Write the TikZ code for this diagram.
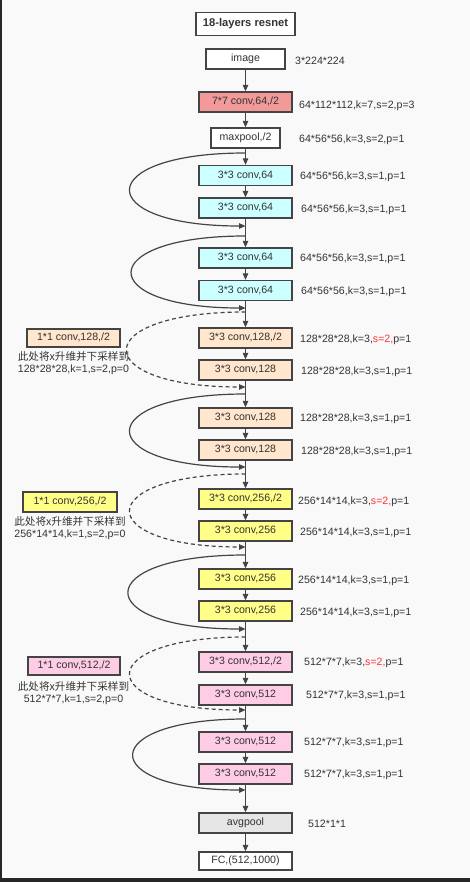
\documentclass[tikz,border=0pt]{standalone}
\usepackage{fontspec}
\setmainfont{Liberation Sans}
\newfontfamily\cjk{Noto Sans CJK SC}
\usetikzlibrary{arrows.meta}
\definecolor{edge}{HTML}{444444}
\definecolor{txt}{HTML}{333333}
\definecolor{bgc}{HTML}{F9F9F9}
\definecolor{redc}{HTML}{F29A9A}
\definecolor{cyanc}{HTML}{CCFFFF}
\definecolor{peachc}{HTML}{FFE6CC}
\definecolor{yelc}{HTML}{FFFF88}
\definecolor{pinkc}{HTML}{FFCCE6}
\definecolor{grayc}{HTML}{E6E6E6}
\definecolor{hot}{HTML}{FF3333}

\begin{document}
\begin{tikzpicture}[x=1pt,y=-1pt,font=\fontsize{10.6}{12}\selectfont,text=txt,
    layer/.style={draw=edge,line width=1.3pt,minimum width=93pt,minimum height=20pt,inner sep=0pt,text height=7.6pt,text depth=2.2pt},
    info/.style={anchor=west,inner sep=0pt},
    arr/.style={draw=edge,line width=1.1pt,-{Triangle[length=6.5pt,width=5.5pt]}},
    skip/.style={arr,line width=1.2pt,out=180,in=180,looseness=5.4},
    dskip/.style={skip,dash pattern=on 4pt off 3pt}]
  \fill[bgc] (0,0) rectangle (470,882);
  \useasboundingbox (0,0) rectangle (470,882);
  \fill[black!85] (0,0) rectangle (1.5,882);
  \fill[black!85] (0,878) rectangle (470,882);

  % title and stem
  \node[draw=edge,line width=1.8pt,fill=white,minimum width=99pt,minimum height=23pt,inner sep=0pt,font=\bfseries\fontsize{11.2}{13}\selectfont] (title) at (245.5,24) {18-layers resnet};
  \node[layer,fill=white,minimum width=79pt] (img) at (245.5,59) {image};
  \node[info] at (295,61) {3*224*224};
  \node[layer,fill=redc] (c1) at (245.5,102) {7*7 conv,64,/2};
  \node[info] at (299,106) {64*112*112,k=7,s=2,p=3};
  \node[layer,fill=white,minimum width=69pt] (pool) at (245.5,138) {maxpool,/2};
  \node[info] at (299,140) {64*56*56,k=3,s=2,p=1};

  % stage 1
  \node[layer,fill=cyanc] (s1a) at (245.5,175.5) {3*3 conv,64};
  \node[info] at (300,177) {64*56*56,k=3,s=1,p=1};
  \node[layer,fill=cyanc] (s1b) at (245.5,208) {3*3 conv,64};
  \node[info] at (301,210) {64*56*56,k=3,s=1,p=1};
  \node[layer,fill=cyanc] (s1c) at (245.5,258) {3*3 conv,64};
  \node[info] at (300,259) {64*56*56,k=3,s=1,p=1};
  \node[layer,fill=cyanc] (s1d) at (245.5,290.5) {3*3 conv,64};
  \node[info] at (301,292) {64*56*56,k=3,s=1,p=1};

  % stage 2
  \node[layer,fill=peachc] (s2a) at (245.5,338) {3*3 conv,128,/2};
  \node[info] at (300,340) {128*28*28,k=3,\textcolor{hot}{s=2,}p=1};
  \node[layer,fill=peachc] (s2b) at (245.5,370) {3*3 conv,128};
  \node[info] at (301,372) {128*28*28,k=3,s=1,p=1};
  \node[layer,fill=peachc] (s2c) at (245.5,418) {3*3 conv,128};
  \node[info] at (300,419) {128*28*28,k=3,s=1,p=1};
  \node[layer,fill=peachc] (s2d) at (245.5,450) {3*3 conv,128};
  \node[info] at (301,452) {128*28*28,k=3,s=1,p=1};
  \node[layer,fill=peachc,minimum height=18pt] (d2) at (73.5,338) {1*1 conv,128,/2};
  \node[align=center,inner sep=0pt] (d2t) at (73.5,363.5) {{\cjk 此处将x升维并下采样到}\\128*28*28,k=1,s=2,p=0};

  % stage 3
  \node[layer,fill=yelc] (s3a) at (245.5,499) {3*3 conv,256,/2};
  \node[info] at (298,502) {256*14*14,k=3,\textcolor{hot}{s=2,}p=1};
  \node[layer,fill=yelc] (s3b) at (245.5,531) {3*3 conv,256};
  \node[info] at (300,533) {256*14*14,k=3,s=1,p=1};
  \node[layer,fill=yelc] (s3c) at (245.5,579) {3*3 conv,256};
  \node[info] at (298,581) {256*14*14,k=3,s=1,p=1};
  \node[layer,fill=yelc] (s3d) at (245.5,611) {3*3 conv,256};
  \node[info] at (300,613) {256*14*14,k=3,s=1,p=1};
  \node[layer,fill=yelc,minimum width=94pt] (d3) at (70,502) {1*1 conv,256,/2};
  \node[align=center,inner sep=0pt] (d3t) at (70,528) {{\cjk 此处将x升维并下采样到}\\256*14*14,k=1,s=2,p=0};

  % stage 4
  \node[layer,fill=pinkc] (s4a) at (245.5,662) {3*3 conv,512,/2};
  \node[info] at (304,663) {512*7*7,k=3,\textcolor{hot}{s=2,}p=1};
  \node[layer,fill=pinkc] (s4b) at (245.5,695) {3*3 conv,512};
  \node[info] at (306,696) {512*7*7,k=3,s=1,p=1};
  \node[layer,fill=pinkc] (s4c) at (245.5,742) {3*3 conv,512};
  \node[info] at (304,743) {512*7*7,k=3,s=1,p=1};
  \node[layer,fill=pinkc] (s4d) at (245.5,774) {3*3 conv,512};
  \node[info] at (304,775) {512*7*7,k=3,s=1,p=1};
  \node[layer,fill=pinkc,minimum width=92pt,minimum height=18pt] (d4) at (74,666) {1*1 conv,512,/2};
  \node[align=center,inner sep=0pt] (d4t) at (73.5,693) {{\cjk 此处将x升维并下采样到}\\512*7*7,k=1,s=2,p=0};

  % head
  \node[layer,fill=grayc] (avg) at (245.5,823) {avgpool};
  \node[info] at (308,824) {512*1*1};
  \node[layer,fill=white,minimum height=18pt] (fc) at (245.5,861) {FC,(512,1000)};

  % main line
  \draw[arr] (img) -- (c1);
  \draw[arr] (c1) -- (pool);
  \draw[arr] (pool) -- (s1a);
  \draw[arr] (s1a) -- (s1b);
  \draw[arr] (s1b) -- (s1c);
  \draw[arr] (s1c) -- (s1d);
  \draw[arr] (s1d) -- (s2a);
  \draw[arr] (s2a) -- (s2b);
  \draw[arr] (s2b) -- (s2c);
  \draw[arr] (s2c) -- (s2d);
  \draw[arr] (s2d) -- (s3a);
  \draw[arr] (s3a) -- (s3b);
  \draw[arr] (s3b) -- (s3c);
  \draw[arr] (s3c) -- (s3d);
  \draw[arr] (s3d) -- (s4a);
  \draw[arr] (s4a) -- (s4b);
  \draw[arr] (s4b) -- (s4c);
  \draw[arr] (s4c) -- (s4d);
  \draw[arr] (s4d) -- (avg);
  \draw[arr] (avg) -- (fc);

  % shortcuts
  \coordinate (k1s) at (245.5,153);  \coordinate (k1e) at (245.5,226);
  \coordinate (k2s) at (245.5,236);  \coordinate (k2e) at (245.5,308);
  \coordinate (k3s) at (245.5,312);  \coordinate (k3e) at (245.5,387);
  \coordinate (k4s) at (245.5,394);  \coordinate (k4e) at (245.5,467);
  \coordinate (k5s) at (245.5,474);  \coordinate (k5e) at (245.5,547);
  \coordinate (k6s) at (245.5,555);  \coordinate (k6e) at (245.5,629);
  \coordinate (k7s) at (245.5,637);  \coordinate (k7e) at (245.5,710);
  \coordinate (k8s) at (245.5,719);  \coordinate (k8e) at (245.5,790);
  \draw[skip] (k1s) to (k1e);
  \draw[skip] (k2s) to (k2e);
  \draw[dskip] (k3s) to (k3e);
  \draw[skip] (k4s) to (k4e);
  \draw[dskip] (k5s) to (k5e);
  \draw[skip] (k6s) to (k6e);
  \draw[dskip] (k7s) to (k7e);
  \draw[skip] (k8s) to (k8e);
\end{tikzpicture}
\end{document}
